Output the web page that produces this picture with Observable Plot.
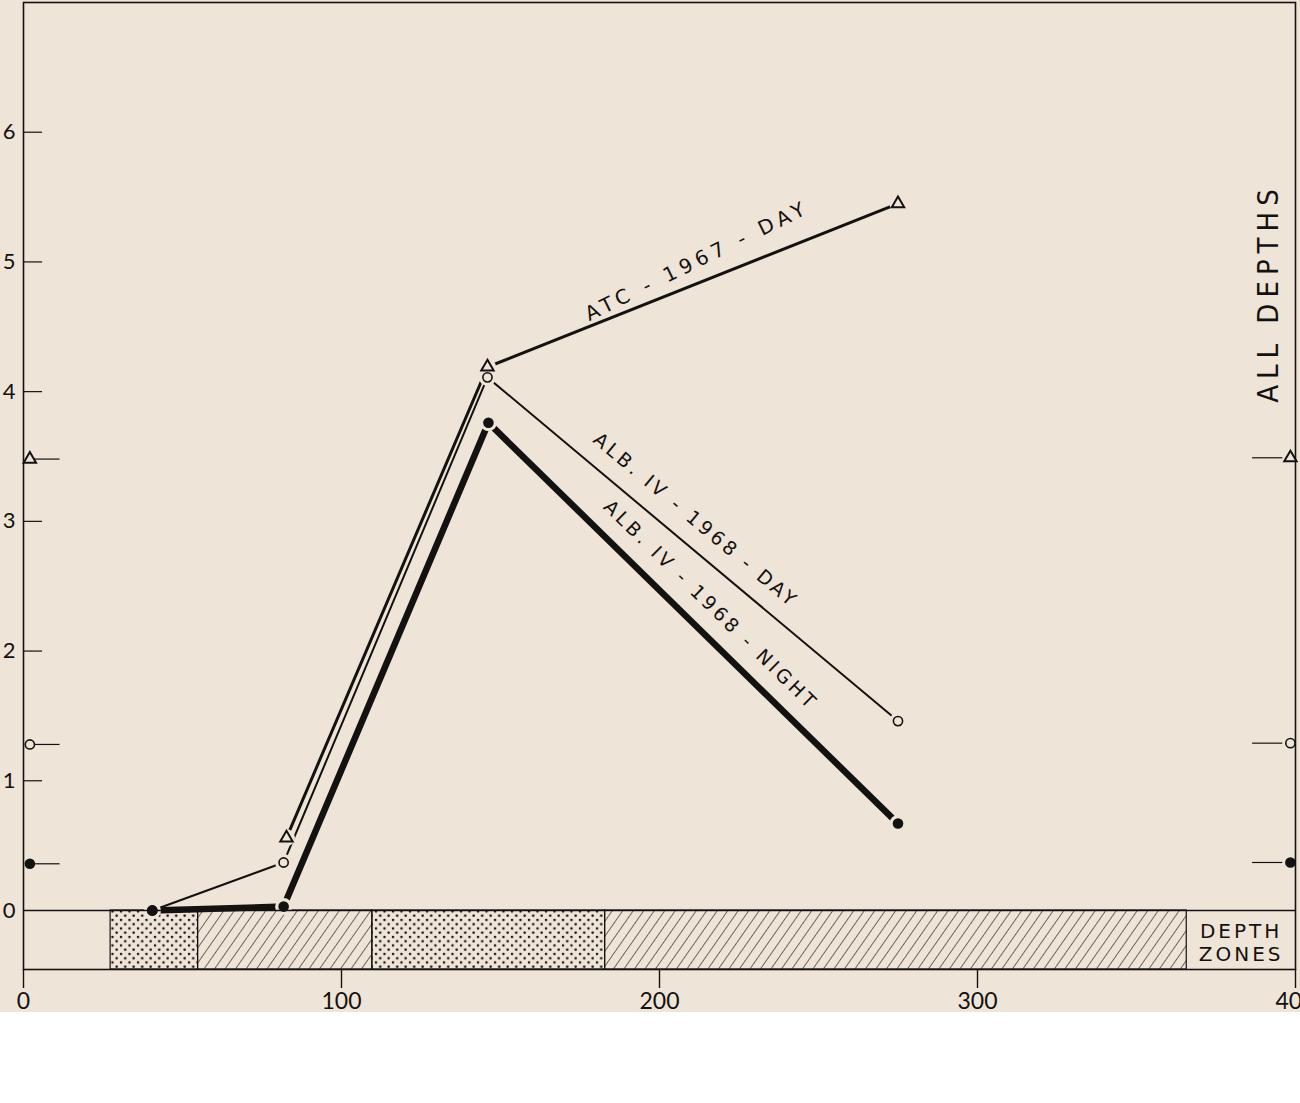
<!DOCTYPE html>
<html><head><meta charset="utf-8">
<script src="https://cdn.jsdelivr.net/npm/d3@7"></script>
<script src="https://cdn.jsdelivr.net/npm/@observablehq/plot@0.6"></script>
<style>
html,body{margin:0;padding:0;background:#efe4d8;}
#chart{width:1300px;height:1012px;position:relative;z-index:1;}
#banner{width:1300px;height:91px;background:#ffffff;position:relative;z-index:2;}
.lbl text{letter-spacing:3.5px;}
.lbl2 text{letter-spacing:5px;}
.alld text{letter-spacing:6px;}
.dz text{letter-spacing:3px;}
</style></head><body>
<div id="chart"></div><div id="banner"></div>
<script>
// ---- data (depth in metres) ----
const nightDepth = [40.5, 81.8, 146.2, 275];
const nightValue = [0.0, 0.03, 3.76, 0.67];
const dayDepth = [40.5, 81.8, 145.9, 275];
const dayValue = [0.0, 0.37, 4.11, 1.46];
const atcDepth = [82.7, 145.9, 275];
const atcValue = [0.56, 4.19, 5.45];
// "ALL DEPTHS" values shown at both edges: ATC 1967 day, ALB IV day, ALB IV night
const allDepthsLeft = [3.48, 1.28, 0.36];
const allDepthsRight = [3.49, 1.29, 0.37];
const allDepthsSymbol = ["triangle", "circle", "dot"];
// depth zones (15, 30, 60, 100, 200 fathoms in metres)
const zoneStart = [27.4, 54.9, 109.7, 182.9];
const zoneEnd = [54.9, 109.7, 182.9, 365.8];
const zoneKind = ["dots", "hatch", "dots", "hatch"];
const xTicks = [0, 100, 200, 300, 400];
const yTicks = [0, 1, 2, 3, 4, 5, 6];
const seriesLabels = ["ATC - 1967 - DAY", "ALB. IV - 1968 - DAY", "ALB. IV - 1968 - NIGHT"];

// ---- build ----
const bg = "#efe4d8", ink = "#141210";
const yMin = -0.455, yMax = 7;
const W = 1300, H = 1012, mL = 23, mR = 5, mT = 2, mB = 43;
const kx = (W - mL - mR) / 400, ky = (H - mT - mB) / (yMax - yMin);

const pts = (xs, ys) => xs.map((x, i) => ({x, y: ys[i]}));
const night = pts(nightDepth, nightValue);
const day = pts(dayDepth, dayValue);
const atc = pts(atcDepth, atcValue);
const zones = zoneStart.map((s, i) => ({x1: s, x2: zoneEnd[i], kind: zoneKind[i]}));

function along(xs, ys, i, t, off, tilt = 0) {
  const ax = xs[i] * kx, ay = -ys[i] * ky, bx = xs[i + 1] * kx, by = -ys[i + 1] * ky;
  const dx = bx - ax, dy = by - ay, L = Math.hypot(dx, dy);
  const ux = dx / L, uy = dy / L, nx = uy, ny = -ux;
  const sx = ax + t * dx + off * nx, sy = ay + t * dy + off * ny;
  return {x: sx / kx, y: -sy / ky, angle: Math.atan2(dy, dx) * 180 / Math.PI + tilt};
}
const atcLabel = [{...along(atcDepth, atcValue, 1, 0.53, 21, -4.5), text: seriesLabels[0]}];
const albLabels = [
  {...along(dayDepth, dayValue, 2, 0.47, 24), text: seriesLabels[1]},
  {...along(nightDepth, nightValue, 2, 0.5, 25), text: seriesLabels[2]}
];

const sideL = allDepthsLeft.map((v, i) => ({x: 2, y: v, s: allDepthsSymbol[i]}));
const sideR = allDepthsRight.map((v, i) => ({x: 398.4, y: v, s: allDepthsSymbol[i]}));
const side = sideL.concat(sideR);

const defsMark = () => {
  const ns = "http://www.w3.org/2000/svg";
  const defs = document.createElementNS(ns, "defs");
  defs.innerHTML = `
   <pattern id="dots" patternUnits="userSpaceOnUse" width="8.5" height="8.5">
     <circle cx="2" cy="2" r="1.25" fill="${ink}"/>
     <circle cx="6.2" cy="6.2" r="1.25" fill="${ink}"/>
   </pattern>
   <pattern id="hatch" patternUnits="userSpaceOnUse" width="8.6" height="8.6" patternTransform="rotate(35)">
     <line x1="0" y1="-1" x2="0" y2="10" stroke="${ink}" stroke-width="1.2"/>
   </pattern>`;
  return defs;
};

const plot = Plot.plot({
  width: W, height: H,
  marginLeft: mL, marginRight: mR, marginTop: mT, marginBottom: mB,
  x: {domain: [0, 400]},
  y: {domain: [yMin, yMax]},
  style: {background: "transparent", fontFamily: "Lato, 'DejaVu Sans', sans-serif", color: ink, overflow: "visible"},
  marks: [
    defsMark,
    Plot.rect(zones.filter(d => d.kind === "dots"), {x1: "x1", x2: "x2", y1: yMin, y2: 0, fill: "url(#dots)", stroke: ink, strokeWidth: 1.2}),
    Plot.rect(zones.filter(d => d.kind === "hatch"), {x1: "x1", x2: "x2", y1: yMin, y2: 0, fill: "url(#hatch)", stroke: ink, strokeWidth: 1.2}),
    Plot.axisX({ticks: xTicks, tickSize: 19, tickPadding: 4, fontSize: 23, label: null, strokeWidth: 1.4, tickFormat: d => String(d)}),
    Plot.axisY({ticks: yTicks, tickSize: 0, tickPadding: 8, fontSize: 22, label: null, tickFormat: d => String(d)}),
    Plot.ruleY(yTicks.filter(d => d > 0), {x1: 0, x2: 6, stroke: ink, strokeWidth: 1.2}),
    Plot.frame({stroke: ink, strokeWidth: 1.6}),
    // all-depth side ticks
    Plot.ruleY(sideL, {y: "y", x1: 3.4, x2: 11.5, stroke: ink, strokeWidth: 1.2}),
    Plot.ruleY(sideR, {y: "y", x1: 386.5, x2: 396, stroke: ink, strokeWidth: 1.2}),
    // series lines
    Plot.line(atc, {x: "x", y: "y", stroke: ink, strokeWidth: 3, strokeLinecap: "butt"}),
    Plot.line(day, {x: "x", y: "y", stroke: ink, strokeWidth: 2, strokeLinecap: "butt"}),
    Plot.line(night, {x: "x", y: "y", stroke: ink, strokeWidth: 6.5, strokeLinecap: "butt"}),
    // gaps around markers
    Plot.dot(atc.concat(day, night), {x: "x", y: "y", r: 8.5, fill: bg}),
    Plot.ruleY([0], {stroke: ink, strokeWidth: 1.4}),
    // markers
    Plot.dot(atc, {x: "x", y: "y", symbol: "triangle", r: 4.6, fill: bg, stroke: ink, strokeWidth: 2}),
    Plot.dot(day, {x: "x", y: "y", symbol: "circle", r: 4.6, fill: bg, stroke: ink, strokeWidth: 1.6}),
    Plot.dot(night, {x: "x", y: "y", r: 5.3, fill: ink}),
    Plot.dot(side.filter(d => d.s === "triangle"), {x: "x", y: "y", symbol: "triangle", r: 4.6, fill: bg, stroke: ink, strokeWidth: 2}),
    Plot.dot(side.filter(d => d.s === "circle"), {x: "x", y: "y", symbol: "circle", r: 4.6, fill: bg, stroke: ink, strokeWidth: 1.6}),
    Plot.dot(side.filter(d => d.s === "dot"), {x: "x", y: "y", r: 5.3, fill: ink}),
    // texts
    Plot.text(atcLabel, {x: "x", y: "y", text: "text", rotate: "angle", fontSize: 20, fontFamily: "'DejaVu Sans', sans-serif", fill: ink, className: "lbl2"}),
    Plot.text(albLabels, {x: "x", y: "y", text: "text", rotate: "angle", fontSize: 19, fontFamily: "'DejaVu Sans', sans-serif", fill: ink, className: "lbl"}),
    Plot.text(["ALL DEPTHS"], {x: 391.5, y: 4.76, text: d => d, rotate: -90, fontSize: 29, fontFamily: "'DejaVu Sans Condensed', 'DejaVu Sans', sans-serif", fill: ink, className: "alld"}),
    Plot.text(["DEPTH\nZONES"], {x: (365.8 + 400) / 2, y: -0.243, text: d => d, fontSize: 20, lineHeight: 1.15, fontFamily: "'DejaVu Sans', sans-serif", fill: ink, className: "dz"})
  ]
});
document.getElementById("chart").appendChild(plot);
</script>
</body></html>
